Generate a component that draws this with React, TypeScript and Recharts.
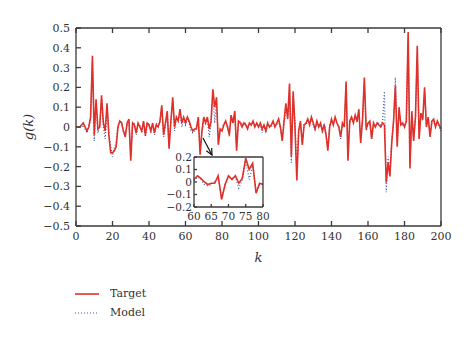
import React from "react";
import { LineChart, Line, XAxis, YAxis, ReferenceLine, Legend } from "recharts";

// sample index k = 0..200
const kValues = Array.from({ length: 201 }, (_, i) => i);

const targetValues = [
	0.0, 0.0, 0.0, 0.01, 0.02, 0.0, -0.02, 0.0, 0.05, 0.36,
	-0.04, 0.14, -0.01, 0.0, 0.16, 0.02, -0.02, 0.12, -0.04, -0.13,
	-0.13, -0.12, -0.1, 0.0, 0.03, 0.02, -0.02, -0.05, 0.02, 0.04,
	-0.17, 0.02, 0.01, -0.03, 0.02, 0.0, -0.02, 0.03, -0.04, 0.02,
	0.01, -0.02, 0.02, -0.03, 0.01, 0.0, 0.03, 0.11, -0.04, 0.02,
	0.08, -0.11, 0.03, 0.15, 0.0, 0.05, 0.03, 0.09, 0.02, 0.05,
	0.02, 0.05, 0.03, 0.0, -0.02, -0.01, -0.01, 0.05, -0.14, -0.02,
	0.05, 0.02, 0.05, -0.01, 0.03, 0.19, 0.1, 0.15, -0.09, -0.01,
	-0.02, 0.01, 0.03, 0.0, -0.04, 0.06, 0.02, 0.08, -0.12, 0.03,
	0.02, 0.0, 0.02, 0.01, -0.01, 0.02, 0.01, 0.03, 0.0, 0.02,
	0.0, 0.02, -0.01, 0.01, -0.02, 0.02, 0.0, 0.01, 0.03, 0.0,
	0.02, 0.04, 0.0, -0.07, 0.03, 0.12, 0.04, 0.22, -0.15, 0.18,
	0.0, -0.27, -0.02, 0.03, -0.09, 0.01, 0.02, 0.04, 0.01, 0.05,
	0.02, -0.01, 0.03, 0.0, 0.02, -0.02, 0.01, -0.04, -0.12, 0.0,
	0.04, 0.01, 0.05, 0.02, 0.0, -0.05, 0.02, 0.0, 0.23, -0.17,
	0.03, 0.05, 0.02, 0.06, 0.03, 0.09, -0.08, 0.04, 0.25, -0.01,
	0.02, 0.03, -0.06, 0.02, 0.0, 0.02, 0.01, 0.0, 0.02, 0.01,
	-0.28, -0.18, -0.25, -0.08, 0.03, 0.21, -0.1, 0.1, 0.01, 0.02,
	0.0, 0.03, 0.48, -0.21, 0.08, -0.07, 0.05, 0.41, -0.06, 0.07,
	0.04, 0.2, 0.0, 0.05, -0.05, 0.03, 0.04, 0.0, 0.03, 0.01,
	-0.01,
];

const modelValues = [
	0.0, 0.0, 0.0, 0.0, 0.01, -0.01, -0.03, 0.0, 0.04, 0.33,
	-0.07, 0.12, -0.03, 0.01, 0.14, 0.0, -0.06, 0.1, -0.03, -0.1,
	-0.15, -0.1, -0.08, 0.01, 0.02, 0.03, -0.03, -0.03, 0.01, 0.03,
	-0.15, 0.01, 0.02, -0.04, 0.01, 0.01, -0.03, 0.02, -0.05, 0.01,
	0.02, -0.03, 0.01, -0.04, 0.02, 0.01, 0.02, 0.1, -0.05, 0.01,
	0.07, -0.09, 0.04, 0.13, -0.02, 0.04, 0.04, 0.07, 0.0, 0.04,
	0.01, 0.04, 0.02, -0.02, -0.03, -0.02, 0.0, 0.04, -0.12, -0.03,
	0.04, 0.03, 0.04, -0.05, 0.02, 0.17, 0.02, 0.13, -0.08, -0.02,
	-0.01, 0.02, 0.02, 0.01, -0.05, 0.05, 0.03, 0.07, -0.1, 0.02,
	0.03, 0.01, 0.02, 0.02, 0.0, 0.01, 0.02, 0.02, 0.01, 0.02,
	0.01, 0.01, -0.03, 0.01, -0.03, 0.01, 0.01, 0.0, 0.02, 0.01,
	0.01, 0.03, -0.01, -0.06, 0.02, 0.1, 0.05, 0.2, -0.18, 0.16,
	0.02, -0.24, -0.03, 0.02, -0.08, 0.02, 0.01, 0.03, 0.02, 0.04,
	0.01, -0.02, 0.02, 0.01, 0.01, -0.03, 0.02, -0.03, -0.1, 0.01,
	0.03, 0.02, 0.04, 0.01, 0.01, -0.06, 0.01, 0.01, 0.21, -0.15,
	0.02, 0.04, 0.03, 0.05, 0.02, 0.07, -0.07, 0.03, 0.23, -0.02,
	0.01, 0.02, -0.05, 0.01, 0.01, 0.01, 0.02, 0.01, 0.03, 0.18,
	-0.33, -0.15, -0.22, -0.07, 0.02, 0.25, -0.08, 0.08, 0.02, 0.01,
	0.01, 0.02, 0.45, -0.18, 0.06, -0.06, 0.04, 0.39, -0.05, 0.06,
	0.03, 0.18, 0.01, 0.04, -0.04, 0.02, 0.03, 0.01, 0.02, 0.0,
	-0.02,
];

const mainXTicks = [0, 20, 40, 60, 80, 100, 120, 140, 160, 180, 200];
const mainYTicks = [-0.5, -0.4, -0.3, -0.2, -0.1, 0, 0.1, 0.2, 0.3, 0.4, 0.5];
const insetXTicks = [60, 65, 70, 75, 80];
const insetYTicks = [-0.2, -0.1, 0, 0.1, 0.2];

const data = kValues.map((k, i) => ({
	k,
	target: targetValues[i],
	model: modelValues[i],
}));
const insetData = data.filter((d) => d.k >= 60 && d.k <= 80);

const FONT = "'DejaVu Serif', serif";
const AXIS = "#3a3a3a";
const RED = "#e0302a";
const BLUE = "#3f5a9e";

const fmtY = (v: number) => (v === 0 ? "0" : v.toFixed(1).replace("-", "\u2212"));
const blank = () => "";
const tickStyle = { fontSize: 11, fontFamily: FONT, fill: "#333" };
const insetTickStyle = { fontSize: 10.5, fontFamily: FONT, fill: "#333" };

function ArrowShape(props: any) {
	const { x1, y1, x2, y2 } = props;
	const ang = Math.atan2(y2 - y1, x2 - x1);
	const len = 7;
	const p1 = [x2 - len * Math.cos(ang - 0.45), y2 - len * Math.sin(ang - 0.45)];
	const p2 = [x2 - len * Math.cos(ang + 0.45), y2 - len * Math.sin(ang + 0.45)];
	return (
		<g>
			<line x1={x1} y1={y1} x2={x2} y2={y2} stroke="#111" strokeWidth={1.2} />
			<polyline
				points={`${p1[0]},${p1[1]} ${x2},${y2} ${p2[0]},${p2[1]}`}
				fill="none"
				stroke="#111"
				strokeWidth={1.2}
			/>
		</g>
	);
}

function LegendContent() {
	return (
		<div style={{ fontFamily: FONT, fontSize: 11, color: "#333" }}>
			<div style={{ display: "flex", alignItems: "center", height: 19 }}>
				<svg width={26} height={8}>
					<line x1={1} y1={4} x2={25} y2={4} stroke={RED} strokeWidth={1.6} />
				</svg>
				<span style={{ marginLeft: 10 }}>Target</span>
			</div>
			<div style={{ display: "flex", alignItems: "center", height: 19 }}>
				<svg width={26} height={8}>
					<line
						x1={1}
						y1={4}
						x2={25}
						y2={4}
						stroke={BLUE}
						strokeWidth={1.2}
						strokeDasharray="1 2"
					/>
				</svg>
				<span style={{ marginLeft: 10 }}>Model</span>
			</div>
		</div>
	);
}

export default function App() {
	return (
		<div
			style={{
				position: "absolute",
				left: 0,
				top: 0,
				width: 474,
				height: 338,
				background: "#fff",
			}}
		>
			<LineChart
				width={474}
				height={338}
				data={data}
				margin={{ top: 27, right: 32, bottom: 82, left: 36 }}
			>
				<XAxis
					dataKey="k"
					type="number"
					domain={[0, 200]}
					ticks={mainXTicks}
					interval={0}
					height={30}
					stroke={AXIS}
					strokeWidth={1.3}
					tickSize={-5}
					tickMargin={11}
					tick={tickStyle}
					label={({ viewBox }: any) => (
						<text
							x={viewBox.x + viewBox.width / 2}
							y={viewBox.y + 36}
							textAnchor="middle"
							fontFamily={FONT}
							fontStyle="italic"
							fontSize={13}
							fill="#333"
						>
							k
						</text>
					)}
				/>
				<XAxis
					xAxisId="top"
					orientation="top"
					type="number"
					domain={[0, 200]}
					ticks={mainXTicks}
					interval={0}
					height={1}
					stroke={AXIS}
					strokeWidth={1.3}
					tickSize={-5}
					tickFormatter={blank}
				/>
				<YAxis
					type="number"
					domain={[-0.5, 0.5]}
					ticks={mainYTicks}
					interval={0}
					width={40}
					stroke={AXIS}
					strokeWidth={1.3}
					tickSize={-5}
					tickMargin={11}
					tick={tickStyle}
					tickFormatter={fmtY}
					label={({ viewBox }: any) => (
						<text
							x={viewBox.x - 3}
							y={viewBox.y + viewBox.height / 2}
							transform={`rotate(-90 ${viewBox.x - 3} ${viewBox.y + viewBox.height / 2})`}
							textAnchor="middle"
							fontFamily={FONT}
							fontStyle="italic"
							fontSize={13}
							fill="#333"
						>
							g(k)
						</text>
					)}
				/>
				<YAxis
					yAxisId="right"
					orientation="right"
					type="number"
					domain={[-0.5, 0.5]}
					ticks={mainYTicks}
					interval={0}
					width={1}
					stroke={AXIS}
					strokeWidth={1.3}
					tickSize={-5}
					tickFormatter={blank}
				/>
				<Legend
					layout="vertical"
					align="center"
					verticalAlign="middle"
					content={<LegendContent />}
					wrapperStyle={{ left: 74, top: 284, width: "auto" }}
				/>
				<Line
					dataKey="model"
					name="Model"
					stroke={BLUE}
					strokeWidth={1.2}
					strokeDasharray="1 2"
					dot={false}
					type="linear"
					isAnimationActive={false}
				/>
				<Line
					dataKey="target"
					name="Target"
					stroke={RED}
					strokeWidth={1.6}
					dot={false}
					type="linear"
					isAnimationActive={false}
				/>
				<ReferenceLine
					segment={[
						{ x: 69.6, y: -0.056 },
						{ x: 74.5, y: -0.141 },
					]}
					shape={ArrowShape}
				/>
			</LineChart>

			{/* zoomed inset, k = 60..80 */}
			<div style={{ position: "absolute", left: 150, top: 150 }}>
				<LineChart
					width={120}
					height={80}
					data={insetData}
					margin={{ top: 6, right: 6, bottom: 3, left: 4 }}
				>
					<XAxis
						dataKey="k"
						type="number"
						domain={[60, 80]}
						ticks={insetXTicks}
						interval={0}
						height={20}
						stroke={AXIS}
						strokeWidth={1.3}
						tickSize={-3}
						tickMargin={9}
						tick={insetTickStyle}
					/>
					<XAxis
						xAxisId="top"
						orientation="top"
						type="number"
						domain={[60, 80]}
						ticks={insetXTicks}
						interval={0}
						height={1}
						stroke={AXIS}
						strokeWidth={1.3}
						tickSize={-3}
						tickFormatter={blank}
					/>
					<YAxis
						type="number"
						domain={[-0.2, 0.2]}
						ticks={insetYTicks}
						interval={0}
						width={40}
						stroke={AXIS}
						strokeWidth={1.3}
						tickSize={-3}
						tickMargin={5}
						tick={insetTickStyle}
						tickFormatter={fmtY}
					/>
					<YAxis
						yAxisId="right"
						orientation="right"
						type="number"
						domain={[-0.2, 0.2]}
						ticks={insetYTicks}
						interval={0}
						width={1}
						stroke={AXIS}
						strokeWidth={1.3}
						tickSize={-3}
						tickFormatter={blank}
					/>
					<Line
						dataKey="model"
						stroke={BLUE}
						strokeWidth={1.2}
						strokeDasharray="1 2"
						dot={false}
						type="linear"
						isAnimationActive={false}
					/>
					<Line
						dataKey="target"
						stroke={RED}
						strokeWidth={1.6}
						dot={false}
						type="linear"
						isAnimationActive={false}
					/>
				</LineChart>
			</div>
		</div>
	);
}
